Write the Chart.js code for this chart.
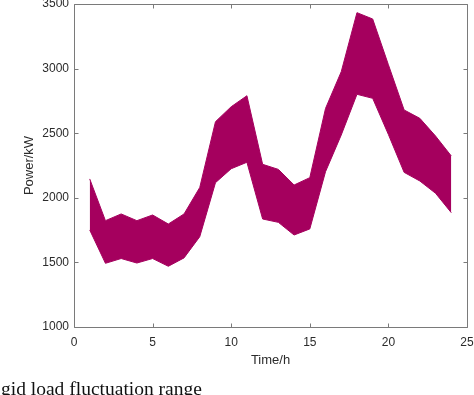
<!DOCTYPE html>
<html>
<head>
<meta charset="utf-8">
<script src="https://cdn.jsdelivr.net/npm/chart.js@4"></script>
<style>
html,body{margin:0;padding:0;background:#fff;overflow:hidden;}
canvas{display:block;}
</style>
</head>
<body>
<canvas id="c" width="474" height="395"></canvas>
<script>
const hours = [1,2,3,4,5,6,7,8,9,10,11,12,13,14,15,16,17,18,19,20,21,22,23,24];
const upperLoad = [2146,1823,1875,1823,1867,1797,1875,2080,2589,2705,2790,2259,2220,2099,2156,2692,2976,3433,3384,3030,2680,2615,2478,2324];
const lowerLoad = [1751,1493,1530,1495,1530,1470,1535,1699,2117,2225,2275,1836,1810,1712,1759,2202,2486,2801,2770,2490,2197,2130,2035,1885];
const xTicks = [0,5,10,15,20,25];
const yTicks = [1000,1500,2000,2500,3000,3500];
const caption = 'gid load fluctuation range';

const fillColor = '#A5005E';
const axisColor = '#7a7a7a';
const textColor = '#2b2b2b';

const boxPlugin = {
  id: 'box',
  afterDraw(chart) {
    const {ctx, chartArea: a, scales: {x, y}} = chart;
    ctx.save();
    ctx.strokeStyle = axisColor;
    ctx.lineWidth = 1;
    const L = Math.round(a.left) + 0.5, R = Math.round(a.right) + 0.5;
    const T = Math.round(a.top) + 0.5, B = Math.round(a.bottom) + 0.5;
    ctx.beginPath();
    ctx.rect(L, T, R - L, B - T);
    const tl = 4;
    xTicks.forEach(v => {
      const px = Math.round(x.getPixelForValue(v)) + 0.5;
      ctx.moveTo(px, B); ctx.lineTo(px, B - tl);
      ctx.moveTo(px, T); ctx.lineTo(px, T + tl);
    });
    yTicks.forEach(v => {
      const py = Math.round(y.getPixelForValue(v)) + 0.5;
      ctx.moveTo(L, py); ctx.lineTo(L + tl, py);
      ctx.moveTo(R, py); ctx.lineTo(R - tl, py);
    });
    ctx.stroke();
    ctx.fillStyle = '#111';
    ctx.font = '19.5px "Liberation Serif", "DejaVu Serif", serif';
    ctx.textBaseline = 'alphabetic';
    ctx.textAlign = 'left';
    ctx.fillText(caption, 1, 395);
    ctx.restore();
  }
};

new Chart(document.getElementById('c'), {
  type: 'line',
  data: {
    labels: hours,
    datasets: [
      {
        data: upperLoad.map((v, i) => ({x: hours[i], y: v})),
        borderColor: fillColor,
        backgroundColor: fillColor,
        borderWidth: 1,
        pointRadius: 0,
        tension: 0,
        fill: '+1'
      },
      {
        data: lowerLoad.map((v, i) => ({x: hours[i], y: v})),
        borderColor: fillColor,
        backgroundColor: fillColor,
        borderWidth: 1,
        pointRadius: 0,
        tension: 0,
        fill: false
      }
    ]
  },
  options: {
    responsive: false,
    animation: false,
    events: [],
    layout: {padding: {top: 4, right: 7, left: 0, bottom: 0}},
    plugins: {legend: {display: false}, tooltip: {enabled: false}},
    scales: {
      x: {
        type: 'linear',
        min: 0, max: 25,
        afterBuildTicks(s) { s.ticks = xTicks.map(v => ({value: v})); },
        afterFit(s) { s.height = 68; s.paddingLeft = 0; s.paddingRight = 0; },
        grid: {display: false, drawTicks: false},
        border: {display: false},
        ticks: {
          color: textColor, padding: 8, maxRotation: 0, autoSkip: false,
          callback: v => String(v),
          font: {family: '"Liberation Sans", Arial, sans-serif', size: 12}
        },
        title: {
          display: true, text: 'Time/h', color: textColor,
          font: {family: '"Liberation Sans", Arial, sans-serif', size: 13},
          padding: {top: 0, bottom: 27}
        }
      },
      y: {
        type: 'linear',
        min: 1000, max: 3500,
        afterBuildTicks(s) { s.ticks = yTicks.map(v => ({value: v})); },
        afterFit(s) { s.width = 74; s.paddingTop = 0; s.paddingBottom = 0; },
        grid: {display: false, drawTicks: false},
        border: {display: false},
        ticks: {
          color: textColor, padding: 5, autoSkip: false,
          callback: v => String(v),
          font: {family: '"Liberation Sans", Arial, sans-serif', size: 12}
        },
        title: {
          display: true, text: 'Power/kW', color: textColor,
          font: {family: '"Liberation Sans", Arial, sans-serif', size: 13},
          padding: {top: 22, bottom: 0}
        }
      }
    }
  },
  plugins: [boxPlugin]
});
</script>
</body>
</html>
